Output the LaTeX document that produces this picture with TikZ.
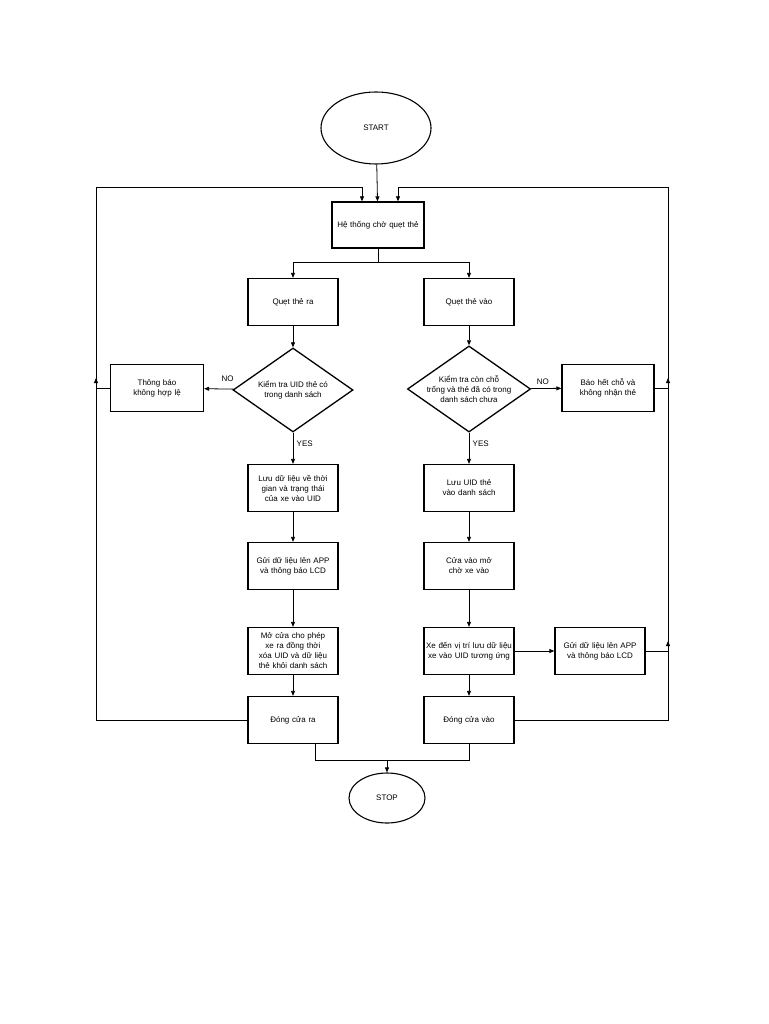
\documentclass[tikz,border=0pt]{standalone}
\usepackage{fontspec}
\setmainfont{Liberation Sans}
\usetikzlibrary{arrows.meta,shapes.geometric}
\begin{document}
\begin{tikzpicture}[x=1pt,y=-1pt,
  box/.style={draw,line width=1.3pt,minimum width=90pt,minimum height=47pt,text width=86pt,align=center,inner sep=1pt,font=\fontsize{8}{10}\selectfont},
  dia/.style={draw,line width=1.3pt,diamond,aspect=1.43,minimum width=120pt,minimum height=84pt,inner sep=0pt,align=center,font=\fontsize{8}{10}\selectfont},
  ell/.style={draw,line width=1.1pt,ellipse,font=\fontsize{8}{10}\selectfont},
  lab/.style={font=\fontsize{8}{10}\selectfont},
  ar/.style={-{Triangle[length=5pt,width=4pt]},line width=0.8pt},
  ln/.style={line width=0.7pt}]
\useasboundingbox (0,0) rectangle (768,1024);
\node[ell,minimum width=110pt,minimum height=72pt] (start) at (376,128) {START};
\node[box,minimum width=92pt,minimum height=46pt] (he) at (378,225) {Hệ thống chờ quẹt thẻ};
\node[box] (qra) at (293,302) {Quẹt thẻ ra};
\node[box] (qvao) at (469,302) {Quẹt thẻ vào};
\node[dia] (d1) at (293,390) {Kiểm tra UID thẻ có\\trong danh sách};
\node[dia,minimum width=122pt] (d2) at (469,389) {Kiểm tra còn chỗ\\trống và thẻ đã có trong\\danh sách chưa};
\node[box,minimum width=93pt] (tb) at (157,388) {Thông báo không hợp lệ};
\node[box,minimum width=92pt] (bh) at (608,388) {Báo hết chỗ và không nhận thẻ};
\node[box] (l1) at (293,488) {Lưu dữ liệu về thời gian và trạng thái của xe vào UID};
\node[box] (r1) at (469,488) {Lưu UID thẻ vào danh sách};
\node[box] (l2) at (293,566) {Gửi dữ liệu lên APP và thông báo LCD};
\node[box] (r2) at (469,566) {Cửa vào mở chờ xe vào};
\node[box] (l3) at (293,651) {Mở cửa cho phép xe ra đồng thời xóa UID và dữ liệu thẻ khỏi danh sách};
\node[box] (r3) at (469,651) {Xe đến vị trí lưu dữ liệu xe vào UID tương ứng};
\node[box] (g) at (600,651) {Gửi dữ liệu lên APP và thông báo LCD};
\node[box] (l4) at (293,720) {Đóng cửa ra};
\node[box] (r4) at (469,720) {Đóng cửa vào};
\node[ell,minimum width=76pt,minimum height=50pt] (stop) at (387,798) {STOP};
\coordinate (lt) at (96,187); \coordinate (rt) at (668,187);
\coordinate (lb) at (96,720); \coordinate (rb) at (668,720);
\coordinate (sp) at (378,262);
\coordinate (mg) at (387,760);
\draw[ar] (start) -- (he);
\draw[ar] (lt) -| ([xshift=-16pt]he.north);
\draw[ar] (rt) -| ([xshift=20pt]he.north);
\draw[ln] (he.south) -- (sp);
\draw[ar] (sp) -| (qra.north);
\draw[ar] (sp) -| (qvao.north);
\draw[ar] (qra) -- (d1);
\draw[ar] (qvao) -- (d2);
\draw[ar] (d1) -- node[lab,above,pos=0.2,yshift=4pt]{NO} (tb);
\draw[ar] (d2) -- node[lab,above,pos=0.4]{NO} (bh);
\draw[ar] (d1) -- node[lab,right,pos=0.35]{YES} (l1);
\draw[ar] (d2) -- node[lab,right,pos=0.35]{YES} (r1);
\draw[ar] (l1) -- (l2); \draw[ar] (l2) -- (l3); \draw[ar] (l3) -- (l4);
\draw[ar] (r1) -- (r2); \draw[ar] (r2) -- (r3); \draw[ar] (r3) -- (r4);
\draw[ar] (r3) -- (g);
\draw[ln] (l4.west) -- (lb) -- (lt);
\draw[ln] (r4.east) -- (rb) -- (rt);
\draw[ar] (tb.west) -- (96,388) -- (96,378);
\draw[ar] (bh.east) -- (668,388) -- (668,378);
\draw[ar] (g.east) -- (668,651) -- (668,641);
\draw[ln] ([xshift=22pt]l4.south) |- (mg);
\draw[ln] (r4.south) |- (mg);
\draw[ar] (mg) -- (stop);
\end{tikzpicture}
\end{document}
